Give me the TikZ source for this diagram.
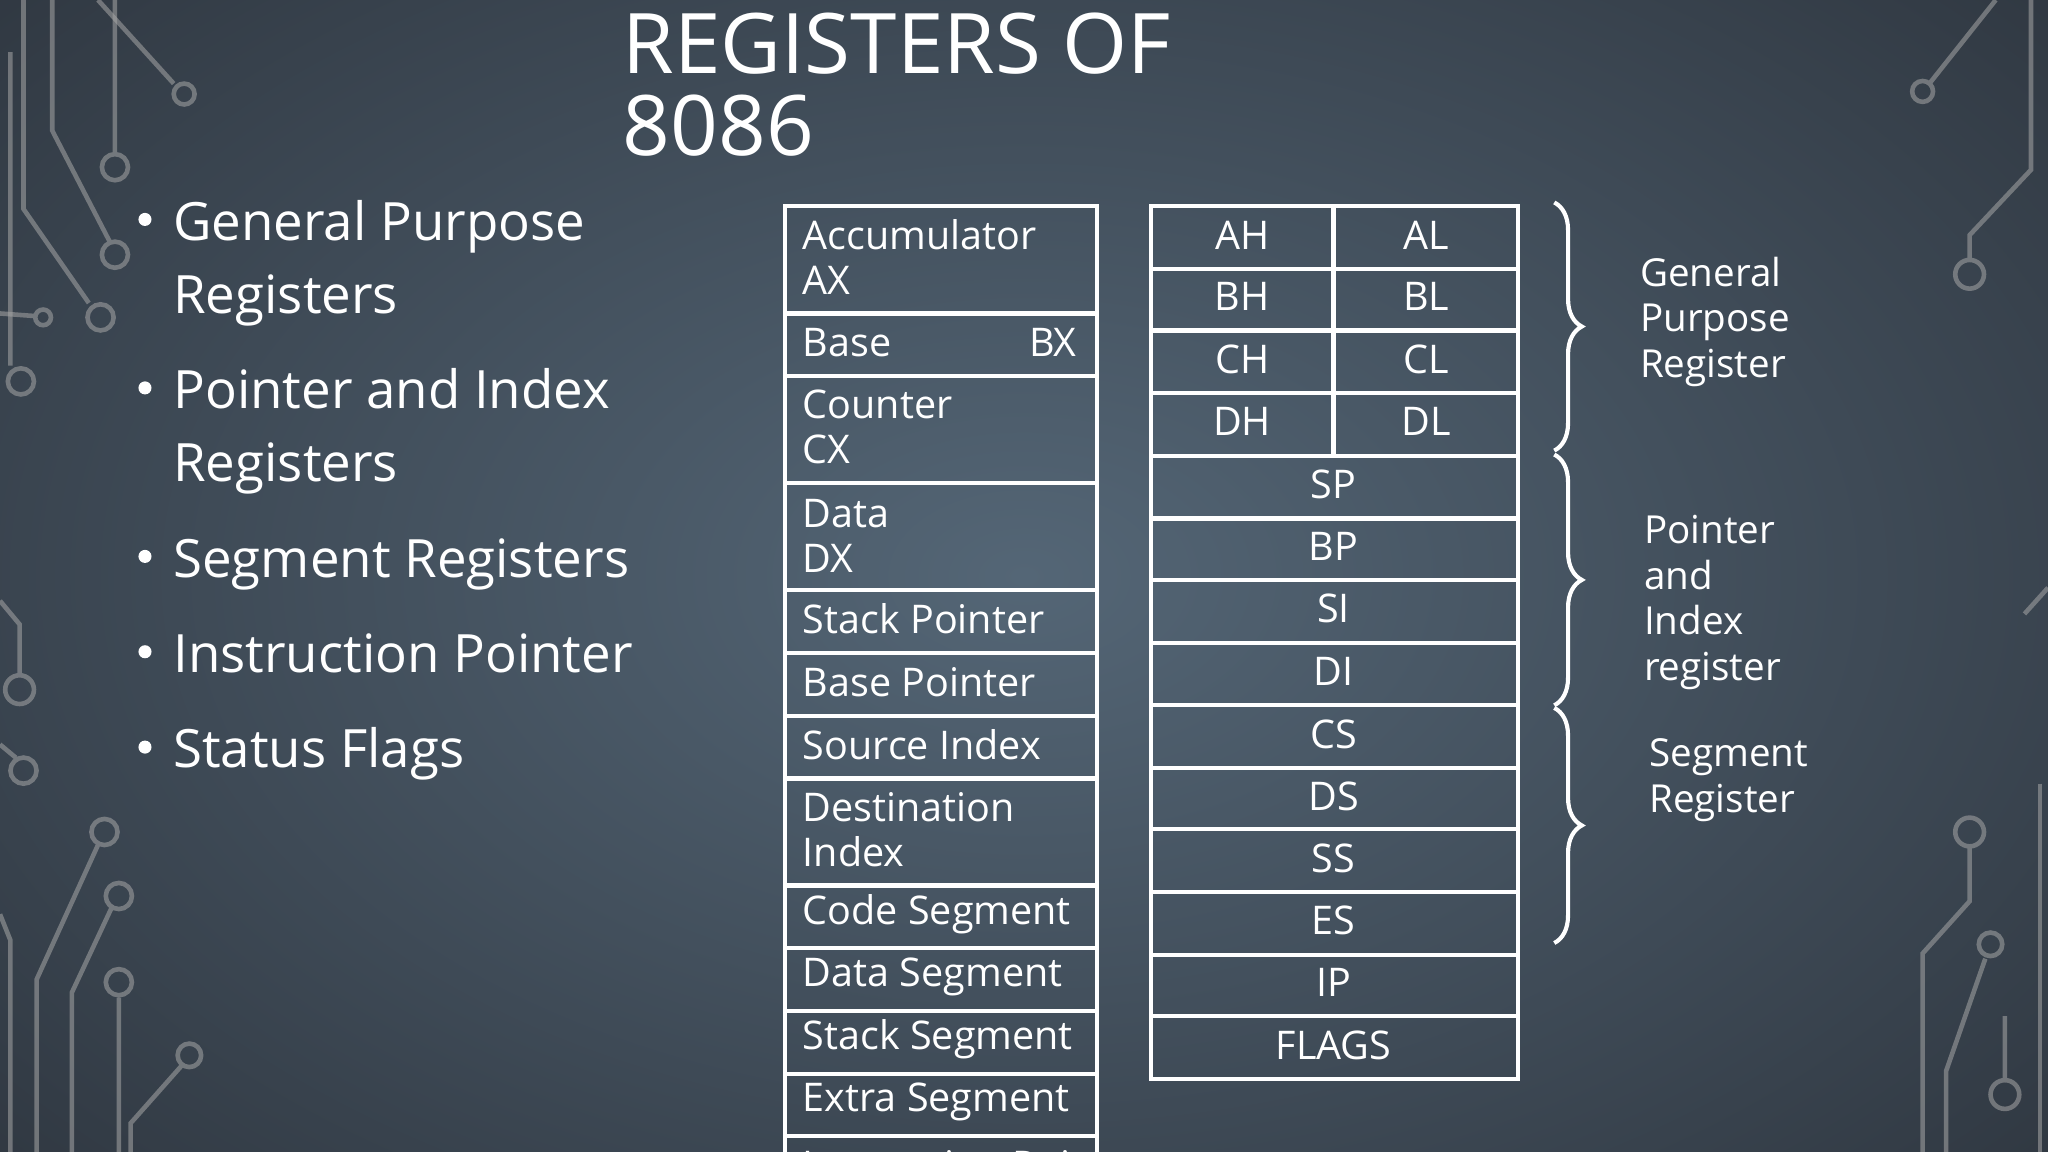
\documentclass[tikz,border=0pt]{standalone}
\usepackage{fontspec}
\setmainfont{Open Sans}
\usetikzlibrary{decorations.pathreplacing}
\begin{document}
\begin{tikzpicture}[x=0.01cm,y=-0.01cm,
  cell/.style={draw=white,line width=0.9pt},
  ttxt/.style={text=white,font=\fontsize{8.6}{9.8}\selectfont,inner sep=0pt},
  btxt/.style={text=white,font=\fontsize{11.5}{15.8}\selectfont,inner sep=0pt,anchor=base west},
  lbl/.style={text=white,font=\fontsize{8.4}{9.9}\selectfont,align=left,anchor=north west,inner sep=0pt},
  circ/.style={draw=gray!70!white,opacity=0.55,line width=1pt},
  brace/.style={draw=white,line width=0.9pt,decorate,decoration={brace,amplitude=6pt}}]
\useasboundingbox (0,0) rectangle (1568,882);
\clip (0,0) rectangle (1568,882);
\shade[inner color={rgb,255:red,84;green,102;blue,118}, outer color={rgb,255:red,34;green,38;blue,45}]
  (-700,-500) rectangle (2268,1382);
% circuit decorations
\draw[circ] (88,0)--(88,118) (88,128) circle (10);
\draw[circ] (75,0)--(133,64) (141,72) circle (8);
\draw[circ] (40,0)--(40,100)--(84,185) (88,195) circle (10);
\draw[circ] (18,0)--(18,160)--(68,232) (77,243) circle (10);
\draw[circ] (8,40)--(8,280) (16,292) circle (10);
\draw[circ] (0,240)--(27,242) (33,243) circle (6);
\draw[circ] (0,460)--(15,478)--(15,516) (15,528) circle (11);
\draw[circ] (0,570)--(12,580) (18,590) circle (10);
\draw[circ] (75,647)--(28,750)--(28,882) (80,637) circle (10);
\draw[circ] (85,696)--(55,760)--(55,882) (91,686) circle (10);
\draw[circ] (91,764)--(91,882) (91,752) circle (10);
\draw[circ] (139,816)--(100,860)--(100,882) (145,808) circle (9);
\draw[circ] (0,700)--(8,720)--(8,882);
\draw[circ] (1528,0)--(1478,63) (1472,70) circle (8);
\draw[circ] (1555,0)--(1555,130)--(1508,180)--(1508,198) (1508,210) circle (11);
\draw[circ] (1508,649)--(1508,690)--(1472,730)--(1472,882) (1508,637) circle (11);
\draw[circ] (1520,734)--(1490,820)--(1490,882) (1524,723) circle (9);
\draw[circ] (1535,778)--(1535,826) (1535,838) circle (11);
\draw[circ] (1562,600)--(1562,882);
\draw[circ] (1568,450)--(1550,470);
% title
\node[text=white,font=\fontsize{18.2}{22}\selectfont,anchor=base west,inner sep=0pt] (t1) at (476,56) {REGISTERS OF};
\node[text=white,font=\fontsize{18.2}{22}\selectfont,anchor=base west,inner sep=0pt] (t2) at (476,119) {8086};
% bullets
\foreach \n/\y/\t in {b1/184/General Purpose, b2/313/Pointer and Index, b3/442/Segment Registers, b4/515/Instruction Pointer, b5/588/Status Flags}{
  \node[btxt] (\n) at (132,\y) {\t};
  \fill[white] (111,\y-16) circle (5);
}
\node[btxt] (b1b) at (132,240) {Registers};
\node[btxt] (b2b) at (132,369) {Registers};
% left table
\foreach \n/\a/\b in {l1/158/240, l2/240/288, l3/288/370, l4/370/452, l5/452/500, l6/500/548, l7/548/596, l8/596/678, l9/678/726, l10/726/774, l11/774/822, l12/822/870, l13/870/918}{
  \draw[cell] (601,\a) rectangle (840,\b);
}
\foreach \n/\y/\t in {lt1/197/{Accumulator\\AX}, lt2/262/Base, lt3/327/{Counter\\CX}, lt4/410/{Data\\DX}, lt5/474/Stack Pointer, lt6/522/Base Pointer, lt7/570/Source Index, lt8/635/{Destination\\Index}, lt9/700/Code Segment, lt10/748/Data Segment, lt11/796/Stack Segment, lt12/844/Extra Segment, lt13/892/Instruction Pointer}{
  \node[ttxt,align=left,anchor=west] (\n) at (614,\y) {\t};
}
\node[ttxt,anchor=east] (bx) at (825,262) {BX};
% right table
\foreach \a/\b [count=\i] in {158/206,206/253,253/301,301/349}{
  \draw[cell] (881,\a) rectangle (1021,\b);
  \draw[cell] (1021,\a) rectangle (1162,\b);
}
\foreach \h/\l/\y in {AH/AL/180,BH/BL/227,CH/CL/275,DH/DL/323}{
  \node[ttxt] (r\h) at (951,\y) {\h};
  \node[ttxt] (r\l) at (1092,\y) {\l};
}
\foreach \t/\a/\b in {SP/349/397,BP/397/444,SI/444/492,DI/492/540,CS/540/588,DS/588/635,SS/635/683,ES/683/731,IP/731/778,FLAGS/778/826}{
  \draw[cell] (881,\a) rectangle (1162,\b);
  \node[ttxt] (r\t) at (1021,{(\a+\b)/2-2}) {\t};
}
% braces
\coordinate (g1) at (1190,155); \coordinate (g2) at (1190,345);
\coordinate (p1) at (1190,348); \coordinate (p2) at (1190,540);
\coordinate (s1) at (1190,542); \coordinate (s2) at (1190,722);
\draw[brace] (g1) -- (g2);
\draw[brace] (p1) -- (p2);
\draw[brace] (s1) -- (s2);
\node[lbl] (gl) at (1255,196) {General\\Purpose\\Register};
\node[lbl] (pl) at (1258,394) {Pointer\\and\\Index\\register};
\node[lbl] (sl) at (1262,565) {Segment\\Register};
\end{tikzpicture}
\end{document}
